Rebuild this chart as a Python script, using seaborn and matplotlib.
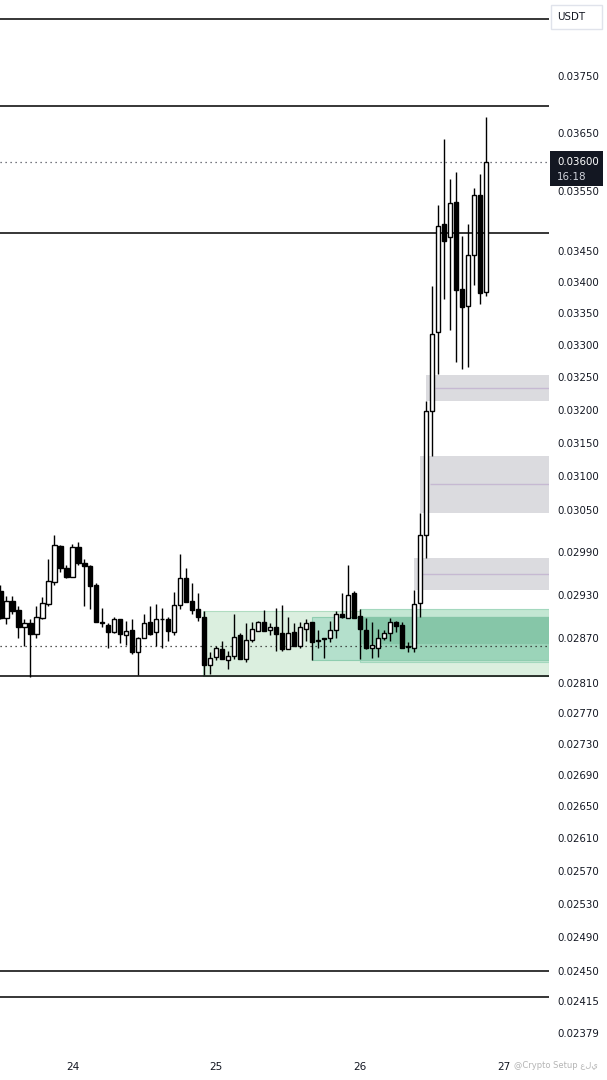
"""TradingView style 1h candle chart, USDT pair, log price scale."""
import matplotlib

matplotlib.use("Agg")
import matplotlib.dates as mdates
import matplotlib.pyplot as plt
import matplotlib.ticker as mticker
import pandas as pd
import seaborn as sns
from matplotlib.patches import Rectangle

sns.set_theme(style="white")
plt.rcParams["font.family"] = ["DejaVu Sans"]

# hourly candles, 23rd 12:00 -> 26th 21:00
times = pd.date_range("2024-06-23 12:00", periods=82, freq="h")
opens = [
    0.02936, 0.02898, 0.02922, 0.02909, 0.02885, 0.02891, 0.02876, 0.02898, 0.02918, 0.02948,
    0.02999, 0.02967, 0.02955, 0.02998, 0.02975, 0.02970, 0.02944, 0.02892, 0.02889, 0.02879,
    0.02897, 0.02875, 0.02882, 0.02852, 0.02871, 0.02893, 0.02879, 0.02897, 0.02897, 0.02879,
    0.02916, 0.02953, 0.02922, 0.02911, 0.02900, 0.02834, 0.02845, 0.02856, 0.02840, 0.02846,
    0.02874, 0.02842, 0.02868, 0.02880, 0.02893, 0.02882, 0.02886, 0.02878, 0.02856, 0.02879,
    0.02860, 0.02883, 0.02893, 0.02868, 0.02870, 0.02871, 0.02882, 0.02904, 0.02898, 0.02932,
    0.02901, 0.02882, 0.02857, 0.02857, 0.02871, 0.02878, 0.02893, 0.02889, 0.02859, 0.02857,
    0.02919, 0.03014, 0.03197, 0.03320, 0.03495, 0.03474, 0.03532, 0.03389, 0.03361, 0.03444,
    0.03544, 0.03384,
]
highs = [
    0.02944, 0.02929, 0.02929, 0.02914, 0.02897, 0.02897, 0.02915, 0.02927, 0.02981, 0.03014,
    0.03000, 0.02972, 0.03002, 0.03005, 0.02981, 0.02972, 0.02947, 0.02912, 0.02891, 0.02900,
    0.02897, 0.02894, 0.02897, 0.02872, 0.02904, 0.02915, 0.02918, 0.02912, 0.02900, 0.02934,
    0.02987, 0.02967, 0.02947, 0.02933, 0.02907, 0.02852, 0.02859, 0.02867, 0.02853, 0.02904,
    0.02878, 0.02891, 0.02893, 0.02894, 0.02909, 0.02891, 0.02912, 0.02916, 0.02900, 0.02891,
    0.02893, 0.02897, 0.02893, 0.02882, 0.02870, 0.02894, 0.02907, 0.02933, 0.02972, 0.02936,
    0.02911, 0.02898, 0.02893, 0.02883, 0.02882, 0.02898, 0.02894, 0.02893, 0.02865, 0.02937,
    0.03046, 0.03213, 0.03394, 0.03527, 0.03639, 0.03571, 0.03583, 0.03475, 0.03495, 0.03555,
    0.03579, 0.03678,
]
lows = [
    0.02896, 0.02890, 0.02904, 0.02871, 0.02859, 0.02818, 0.02870, 0.02897, 0.02914, 0.02944,
    0.02962, 0.02954, 0.02955, 0.02972, 0.02914, 0.02911, 0.02893, 0.02886, 0.02857, 0.02878,
    0.02864, 0.02861, 0.02849, 0.02821, 0.02871, 0.02875, 0.02859, 0.02857, 0.02867, 0.02874,
    0.02911, 0.02920, 0.02904, 0.02894, 0.02820, 0.02822, 0.02840, 0.02842, 0.02829, 0.02842,
    0.02842, 0.02838, 0.02865, 0.02880, 0.02880, 0.02874, 0.02853, 0.02853, 0.02856, 0.02860,
    0.02857, 0.02867, 0.02840, 0.02857, 0.02844, 0.02865, 0.02870, 0.02898, 0.02898, 0.02898,
    0.02842, 0.02855, 0.02844, 0.02845, 0.02868, 0.02867, 0.02879, 0.02857, 0.02852, 0.02852,
    0.02900, 0.02982, 0.03130, 0.03254, 0.03373, 0.03323, 0.03273, 0.03262, 0.03265, 0.03395,
    0.03365, 0.03378,
]
closes = [
    0.02898, 0.02922, 0.02908, 0.02885, 0.02891, 0.02876, 0.02900, 0.02919, 0.02950, 0.03001,
    0.02967, 0.02955, 0.02998, 0.02975, 0.02970, 0.02943, 0.02893, 0.02891, 0.02879, 0.02897,
    0.02876, 0.02880, 0.02852, 0.02870, 0.02891, 0.02876, 0.02896, 0.02896, 0.02880, 0.02916,
    0.02954, 0.02920, 0.02909, 0.02900, 0.02834, 0.02844, 0.02857, 0.02842, 0.02846, 0.02872,
    0.02842, 0.02868, 0.02883, 0.02893, 0.02880, 0.02886, 0.02876, 0.02856, 0.02878, 0.02860,
    0.02886, 0.02891, 0.02865, 0.02867, 0.02869, 0.02882, 0.02904, 0.02900, 0.02930, 0.02898,
    0.02883, 0.02857, 0.02861, 0.02871, 0.02878, 0.02893, 0.02887, 0.02857, 0.02858, 0.02918,
    0.03014, 0.03198, 0.03317, 0.03492, 0.03467, 0.03530, 0.03387, 0.03360, 0.03444, 0.03544,
    0.03382, 0.03600,
]

price_ticks = [
    0.03750, 0.03650, 0.03550, 0.03450, 0.03400, 0.03350, 0.03300, 0.03250, 0.03200,
    0.03150, 0.03100, 0.03050, 0.02990, 0.02930, 0.02870, 0.02810, 0.02770, 0.02730,
    0.02690, 0.02650, 0.02610, 0.02570, 0.02530, 0.02490, 0.02450, 0.02415, 0.02379,
]
day_ticks = pd.to_datetime(["2024-06-24", "2024-06-25", "2024-06-26", "2024-06-27"])
day_labels = ["24", "25", "26", "27"]

levels = [0.03853, 0.03697, 0.03480, 0.02819, 0.02450, 0.02420]
dotted_levels = [0.03600, 0.02860]

# imbalance boxes (grey) on the pump
gap_starts = pd.to_datetime(["2024-06-26 11:00", "2024-06-26 10:00", "2024-06-26 09:00"])
gap_mid_starts = pd.to_datetime(["2024-06-26 12:30", "2024-06-26 11:40", "2024-06-26 10:00"])
gap_lows = [0.03213, 0.03046, 0.02937]
gap_highs = [0.03253, 0.03130, 0.02982]
gap_mids = [0.03233, 0.03088, 0.02959]

# accumulation / demand boxes (green)
zone_starts = pd.to_datetime(["2024-06-24 21:48", "2024-06-26 00:00", "2024-06-25 16:00",
                              "2024-06-26 00:00", "2024-06-26 00:00"])
zone_lows = [0.02819, 0.02838, 0.02840, 0.02840, 0.02864]
zone_highs = [0.02908, 0.02911, 0.02900, 0.02900, 0.02900]
zone_faces = ["#dbefdf", "#c3e7d3", "#b4e0cc", "#9bd4b9", "#86c6a8"]
zone_edges = ["#b0dcc0", "#a3d8be", "#8fcdb0", "#8fcdb0", "#86c6a8"]

W, H = 607, 1080
fig = plt.figure(figsize=(W / 100, H / 100), dpi=100)
ax = fig.add_axes([0, 25 / H, 549 / W, 1055 / H])
ax.set_facecolor("white")

x = mdates.date2num(times)
x_left = x[0] - 0.08 / 24
x_right = x[-1] + 10.5 / 24
ax.set_xlim(x_left, x_right)
ax.set_yscale("log")
ax.set_ylim(0.023542, 0.03888)

for s, lo, hi, fc, ec in zip(zone_starts, zone_lows, zone_highs, zone_faces, zone_edges):
    x0 = mdates.date2num(s)
    ax.add_patch(Rectangle((x0, lo), x_right - x0, hi - lo, facecolor=fc,
                           edgecolor=ec, linewidth=0.8, zorder=1))

for s, ms, lo, hi, mid in zip(gap_starts, gap_mid_starts, gap_lows, gap_highs, gap_mids):
    x0 = mdates.date2num(s)
    ax.add_patch(Rectangle((x0, lo), x_right - x0, hi - lo, facecolor="#dbdbdf",
                           edgecolor="none", zorder=1))
    ax.hlines(mid, mdates.date2num(ms), x_right, color="#c6b9d2", linewidth=1, zorder=1.5)

for lv in levels:
    ax.axhline(lv, color="black", linewidth=1.1, zorder=2)
ax.axhline(dotted_levels[0], color="#4a4d58", linewidth=0.9, linestyle=(0, (1, 3)), zorder=2)
ax.axhline(dotted_levels[1], color="#222222", linewidth=0.9, linestyle=(0, (1, 3)), zorder=2)

frame = pd.DataFrame({"x": x, "o": opens, "h": highs, "l": lows, "c": closes})
frame["up"] = frame["c"] >= frame["o"]
frame["bottom"] = frame[["o", "c"]].min(axis=1)
frame["height"] = (frame["c"] - frame["o"]).abs().clip(lower=0.000006)

bw = 0.7 / 24
ax.vlines(frame["x"], frame["l"], frame["h"], color="black", linewidth=1, zorder=3)
up = frame[frame["up"]]
dn = frame[~frame["up"]]
ax.bar(up["x"], up["height"], bottom=up["bottom"], width=bw, color="white",
       edgecolor="black", linewidth=1, zorder=4)
ax.bar(dn["x"], dn["height"], bottom=dn["bottom"], width=bw, color="black",
       edgecolor="black", linewidth=1, zorder=4)

ax.yaxis.set_major_locator(mticker.FixedLocator(price_ticks))
ax.yaxis.set_major_formatter(mticker.FixedFormatter([f"{v:.5f}" for v in price_ticks]))
ax.yaxis.set_minor_locator(mticker.NullLocator())
ax.yaxis.tick_right()
ax.tick_params(axis="y", length=0, pad=6, labelsize=7.4, labelcolor="#131722")
ax.set_xticks(mdates.date2num(day_ticks))
ax.set_xticklabels(day_labels)
ax.tick_params(axis="x", length=0, pad=5, labelsize=7.6, labelcolor="#131722")
for sp in ax.spines.values():
    sp.set_visible(False)
ax.grid(False)

# last price tag
ypix = ax.transData.transform((x[-1], closes[-1]))[1]
tag = Rectangle((550 / W, (ypix - 24) / H), 53 / W, 35 / H, transform=fig.transFigure,
                facecolor="#131722", edgecolor="none", zorder=10)
fig.patches.append(tag)
fig.text(557 / W, ypix / H, f"{closes[-1]:.5f}", color="white", fontsize=7.4,
         va="center", ha="left", zorder=11)
fig.text(557 / W, (ypix - 15) / H, "16:18", color="#d1d4dc", fontsize=7.4,
         va="center", ha="left", zorder=11)

# currency badge
badge = Rectangle((551 / W, 1 - 29 / H), 51 / W, 24 / H, transform=fig.transFigure,
                  facecolor="white", edgecolor="#e0e3eb", linewidth=1, zorder=10)
fig.patches.append(badge)
fig.text(557 / W, 1 - 17 / H, "USDT", color="#131722", fontsize=7.4,
         va="center", ha="left", zorder=11)

# watermark, kept clear of the last day label
fig.text(514 / W, 14 / H, "@Crypto Setup علي", color="#b5b5b5", fontsize=6,
         va="center", ha="left", zorder=12)

fig.savefig("out.png", dpi=100)
